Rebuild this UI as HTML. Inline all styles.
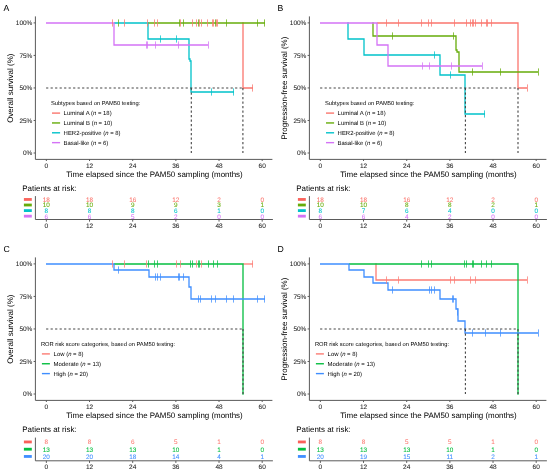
<!DOCTYPE html>
<html><head><meta charset="utf-8"><style>
html,body{margin:0;padding:0;background:#fff;width:550px;height:473px;overflow:hidden}
svg{display:block;will-change:transform}
</style></head><body>
<svg width="550" height="473" viewBox="0 0 550 473" font-family="'Liberation Sans', sans-serif" text-rendering="geometricPrecision">
<rect width="550" height="473" fill="#fff"/>
<text x="3.50" y="10.85" font-size="8.7" text-anchor="start" fill="#000" stroke="#000" stroke-width="0" >A</text>
<line x1="35.40" y1="16.40" x2="35.40" y2="159.40" stroke="#5a5a5a" stroke-width="1.0" />
<line x1="35.40" y1="159.40" x2="272.40" y2="159.40" stroke="#5a5a5a" stroke-width="1.0" />
<line x1="33.60" y1="22.90" x2="35.40" y2="22.90" stroke="#5a5a5a" stroke-width="1.0" />
<text x="32.40" y="25.25" font-size="6.5" text-anchor="end" fill="#222" stroke="#222" stroke-width="0.06" >100%</text>
<line x1="33.60" y1="55.42" x2="35.40" y2="55.42" stroke="#5a5a5a" stroke-width="1.0" />
<text x="32.40" y="57.77" font-size="6.5" text-anchor="end" fill="#222" stroke="#222" stroke-width="0.06" >75%</text>
<line x1="33.60" y1="87.95" x2="35.40" y2="87.95" stroke="#5a5a5a" stroke-width="1.0" />
<text x="32.40" y="90.30" font-size="6.5" text-anchor="end" fill="#222" stroke="#222" stroke-width="0.06" >50%</text>
<line x1="33.60" y1="120.47" x2="35.40" y2="120.47" stroke="#5a5a5a" stroke-width="1.0" />
<text x="32.40" y="122.82" font-size="6.5" text-anchor="end" fill="#222" stroke="#222" stroke-width="0.06" >25%</text>
<line x1="33.60" y1="153.00" x2="35.40" y2="153.00" stroke="#5a5a5a" stroke-width="1.0" />
<text x="32.40" y="155.35" font-size="6.5" text-anchor="end" fill="#222" stroke="#222" stroke-width="0.06" >0%</text>
<line x1="46.35" y1="159.40" x2="46.35" y2="161.00" stroke="#5a5a5a" stroke-width="1.0" />
<text x="46.35" y="168.00" font-size="6.5" text-anchor="middle" fill="#222" stroke="#222" stroke-width="0.06" >0</text>
<line x1="89.52" y1="159.40" x2="89.52" y2="161.00" stroke="#5a5a5a" stroke-width="1.0" />
<text x="89.52" y="168.00" font-size="6.5" text-anchor="middle" fill="#222" stroke="#222" stroke-width="0.06" >12</text>
<line x1="132.69" y1="159.40" x2="132.69" y2="161.00" stroke="#5a5a5a" stroke-width="1.0" />
<text x="132.69" y="168.00" font-size="6.5" text-anchor="middle" fill="#222" stroke="#222" stroke-width="0.06" >24</text>
<line x1="175.86" y1="159.40" x2="175.86" y2="161.00" stroke="#5a5a5a" stroke-width="1.0" />
<text x="175.86" y="168.00" font-size="6.5" text-anchor="middle" fill="#222" stroke="#222" stroke-width="0.06" >36</text>
<line x1="219.03" y1="159.40" x2="219.03" y2="161.00" stroke="#5a5a5a" stroke-width="1.0" />
<text x="219.03" y="168.00" font-size="6.5" text-anchor="middle" fill="#222" stroke="#222" stroke-width="0.06" >48</text>
<line x1="262.20" y1="159.40" x2="262.20" y2="161.00" stroke="#5a5a5a" stroke-width="1.0" />
<text x="262.20" y="168.00" font-size="6.5" text-anchor="middle" fill="#222" stroke="#222" stroke-width="0.06" >60</text>
<text x="154.50" y="176.60" font-size="7.95" text-anchor="middle" fill="#000" stroke="#000" stroke-width="0" >Time elapsed since the PAM50 sampling (months)</text>
<text x="0" y="0" font-size="8" text-anchor="middle" transform="translate(12.80,88.20) rotate(-90)">Overall survival (%)</text>
<path d="M243.00,88.00H253.00M243.00,22.35V88.65" fill="none" stroke="#FA766E" stroke-width="1.3" stroke-linecap="butt"/>
<path d="M148.00,23.00H265.00" fill="none" stroke="#66AC0A" stroke-width="1.3" stroke-linecap="butt"/>
<path d="M114.00,23.00H148.00M148.00,39.00H189.00M189.00,59.00H190.00M190.00,61.00H191.00M191.00,92.00H234.00M148.00,22.35V39.65M189.00,38.35V59.65M190.00,58.35V61.65M191.00,60.35V92.65" fill="none" stroke="#00C2CA" stroke-width="1.3" stroke-linecap="butt"/>
<path d="M46.00,23.00H114.00M114.00,45.00H208.00M114.00,22.35V45.65" fill="none" stroke="#D473F6" stroke-width="1.3" stroke-linecap="butt"/>
<path d="M112.50,19.40V26.60M124.50,19.40V26.60M147.50,19.40V26.60M154.50,19.40V26.60M157.50,19.40V26.60M180.50,19.40V26.60M192.50,19.40V26.60M196.50,19.40V26.60M199.50,19.40V26.60M201.50,19.40V26.60M207.50,19.40V26.60M212.50,19.40V26.60M213.50,19.40V26.60M216.50,19.40V26.60M217.50,19.40V26.60M252.50,84.40V91.60" fill="none" stroke="#FA766E" stroke-width="0.75"/>
<path d="M118.50,19.40V26.60M179.50,19.40V26.60M183.50,19.40V26.60M198.50,19.40V26.60M215.50,19.40V26.60M226.50,19.40V26.60M257.50,19.40V26.60M264.50,19.40V26.60" fill="none" stroke="#66AC0A" stroke-width="0.75"/>
<path d="M160.50,35.40V42.60M176.50,35.40V42.60M211.50,88.40V95.60M233.50,88.40V95.60" fill="none" stroke="#00C2CA" stroke-width="0.75"/>
<path d="M146.50,41.40V48.60M147.50,41.40V48.60M155.50,41.40V48.60M178.50,41.40V48.60M208.50,41.40V48.60" fill="none" stroke="#D473F6" stroke-width="0.75"/>
<path d="M46.10,87.95 L242.90,87.95" fill="none" stroke="#444" stroke-width="1.1" stroke-dasharray="2.2,2.3"/>
<path d="M191.30,87.95 L191.30,153.00" fill="none" stroke="#444" stroke-width="1.1" stroke-dasharray="2.2,2.3"/>
<path d="M242.90,87.95 L242.90,153.00" fill="none" stroke="#444" stroke-width="1.1" stroke-dasharray="2.2,2.3"/>
<text x="50.90" y="105.10" font-size="5.75" text-anchor="start" fill="#000" stroke="#000" stroke-width="0" >Subtypes based on PAM50 testing:</text>
<line x1="52.00" y1="113.10" x2="60.10" y2="113.10" stroke="#FA766E" stroke-width="1.4" />
<text x="63.60" y="115.25" font-size="5.95" text-anchor="start" fill="#000" stroke="#000" stroke-width="0" >Luminal A (<tspan font-style="italic">n</tspan> = 18)</text>
<line x1="52.00" y1="122.95" x2="60.10" y2="122.95" stroke="#66AC0A" stroke-width="1.4" />
<text x="63.60" y="125.10" font-size="5.95" text-anchor="start" fill="#000" stroke="#000" stroke-width="0" >Luminal B (<tspan font-style="italic">n</tspan> = 10)</text>
<line x1="52.00" y1="132.80" x2="60.10" y2="132.80" stroke="#00C2CA" stroke-width="1.4" />
<text x="63.60" y="134.95" font-size="5.95" text-anchor="start" fill="#000" stroke="#000" stroke-width="0" >HER2-positive (<tspan font-style="italic">n</tspan> = 8)</text>
<line x1="52.00" y1="142.65" x2="60.10" y2="142.65" stroke="#D473F6" stroke-width="1.4" />
<text x="63.60" y="144.80" font-size="5.95" text-anchor="start" fill="#000" stroke="#000" stroke-width="0" >Basal-like (<tspan font-style="italic">n</tspan> = 6)</text>
<text x="22.30" y="191.30" font-size="7.95" text-anchor="start" fill="#000" stroke="#000" stroke-width="0" >Patients at risk:</text>
<line x1="35.40" y1="196.10" x2="35.40" y2="219.50" stroke="#5a5a5a" stroke-width="1.0" />
<line x1="35.40" y1="219.50" x2="272.90" y2="219.50" stroke="#5a5a5a" stroke-width="1.0" />
<line x1="46.35" y1="219.50" x2="46.35" y2="221.60" stroke="#5a5a5a" stroke-width="1.0" />
<text x="46.35" y="228.00" font-size="6.5" text-anchor="middle" fill="#222" stroke="#222" stroke-width="0.06" >0</text>
<line x1="89.52" y1="219.50" x2="89.52" y2="221.60" stroke="#5a5a5a" stroke-width="1.0" />
<text x="89.52" y="228.00" font-size="6.5" text-anchor="middle" fill="#222" stroke="#222" stroke-width="0.06" >12</text>
<line x1="132.69" y1="219.50" x2="132.69" y2="221.60" stroke="#5a5a5a" stroke-width="1.0" />
<text x="132.69" y="228.00" font-size="6.5" text-anchor="middle" fill="#222" stroke="#222" stroke-width="0.06" >24</text>
<line x1="175.86" y1="219.50" x2="175.86" y2="221.60" stroke="#5a5a5a" stroke-width="1.0" />
<text x="175.86" y="228.00" font-size="6.5" text-anchor="middle" fill="#222" stroke="#222" stroke-width="0.06" >36</text>
<line x1="219.03" y1="219.50" x2="219.03" y2="221.60" stroke="#5a5a5a" stroke-width="1.0" />
<text x="219.03" y="228.00" font-size="6.5" text-anchor="middle" fill="#222" stroke="#222" stroke-width="0.06" >48</text>
<line x1="262.20" y1="219.50" x2="262.20" y2="221.60" stroke="#5a5a5a" stroke-width="1.0" />
<text x="262.20" y="228.00" font-size="6.5" text-anchor="middle" fill="#222" stroke="#222" stroke-width="0.06" >60</text>
<rect x="23.90" y="198.04" width="7.9" height="2.8" fill="#FA645C"/>
<text x="46.35" y="201.79" font-size="6.4" text-anchor="middle" fill="#FA766E" stroke="#FA766E" stroke-width="0.06" >18</text>
<text x="89.52" y="201.79" font-size="6.4" text-anchor="middle" fill="#FA766E" stroke="#FA766E" stroke-width="0.06" >18</text>
<text x="132.69" y="201.79" font-size="6.4" text-anchor="middle" fill="#FA766E" stroke="#FA766E" stroke-width="0.06" >16</text>
<text x="175.86" y="201.79" font-size="6.4" text-anchor="middle" fill="#FA766E" stroke="#FA766E" stroke-width="0.06" >12</text>
<text x="219.03" y="201.79" font-size="6.4" text-anchor="middle" fill="#FA766E" stroke="#FA766E" stroke-width="0.06" >2</text>
<text x="262.20" y="201.79" font-size="6.4" text-anchor="middle" fill="#FA766E" stroke="#FA766E" stroke-width="0.06" >0</text>
<rect x="23.90" y="203.61" width="7.9" height="2.8" fill="#66AC0A"/>
<text x="46.35" y="207.36" font-size="6.4" text-anchor="middle" fill="#66AC0A" stroke="#66AC0A" stroke-width="0.06" >10</text>
<text x="89.52" y="207.36" font-size="6.4" text-anchor="middle" fill="#66AC0A" stroke="#66AC0A" stroke-width="0.06" >10</text>
<text x="132.69" y="207.36" font-size="6.4" text-anchor="middle" fill="#66AC0A" stroke="#66AC0A" stroke-width="0.06" >9</text>
<text x="175.86" y="207.36" font-size="6.4" text-anchor="middle" fill="#66AC0A" stroke="#66AC0A" stroke-width="0.06" >9</text>
<text x="219.03" y="207.36" font-size="6.4" text-anchor="middle" fill="#66AC0A" stroke="#66AC0A" stroke-width="0.06" >3</text>
<text x="262.20" y="207.36" font-size="6.4" text-anchor="middle" fill="#66AC0A" stroke="#66AC0A" stroke-width="0.06" >1</text>
<rect x="23.90" y="209.19" width="7.9" height="2.8" fill="#00C2CA"/>
<text x="46.35" y="212.94" font-size="6.4" text-anchor="middle" fill="#00C2CA" stroke="#00C2CA" stroke-width="0.06" >8</text>
<text x="89.52" y="212.94" font-size="6.4" text-anchor="middle" fill="#00C2CA" stroke="#00C2CA" stroke-width="0.06" >8</text>
<text x="132.69" y="212.94" font-size="6.4" text-anchor="middle" fill="#00C2CA" stroke="#00C2CA" stroke-width="0.06" >8</text>
<text x="175.86" y="212.94" font-size="6.4" text-anchor="middle" fill="#00C2CA" stroke="#00C2CA" stroke-width="0.06" >6</text>
<text x="219.03" y="212.94" font-size="6.4" text-anchor="middle" fill="#00C2CA" stroke="#00C2CA" stroke-width="0.06" >1</text>
<text x="262.20" y="212.94" font-size="6.4" text-anchor="middle" fill="#00C2CA" stroke="#00C2CA" stroke-width="0.06" >0</text>
<rect x="23.90" y="214.76" width="7.9" height="2.8" fill="#D473F6"/>
<text x="46.35" y="218.51" font-size="6.4" text-anchor="middle" fill="#D473F6" stroke="#D473F6" stroke-width="0.06" >6</text>
<text x="89.52" y="218.51" font-size="6.4" text-anchor="middle" fill="#D473F6" stroke="#D473F6" stroke-width="0.06" >6</text>
<text x="132.69" y="218.51" font-size="6.4" text-anchor="middle" fill="#D473F6" stroke="#D473F6" stroke-width="0.06" >5</text>
<text x="175.86" y="218.51" font-size="6.4" text-anchor="middle" fill="#D473F6" stroke="#D473F6" stroke-width="0.06" >2</text>
<text x="219.03" y="218.51" font-size="6.4" text-anchor="middle" fill="#D473F6" stroke="#D473F6" stroke-width="0.06" >0</text>
<text x="262.20" y="218.51" font-size="6.4" text-anchor="middle" fill="#D473F6" stroke="#D473F6" stroke-width="0.06" >0</text>
<text x="277.50" y="10.85" font-size="8.7" text-anchor="start" fill="#000" stroke="#000" stroke-width="0" >B</text>
<line x1="309.40" y1="16.40" x2="309.40" y2="159.40" stroke="#5a5a5a" stroke-width="1.0" />
<line x1="309.40" y1="159.40" x2="546.40" y2="159.40" stroke="#5a5a5a" stroke-width="1.0" />
<line x1="307.60" y1="22.90" x2="309.40" y2="22.90" stroke="#5a5a5a" stroke-width="1.0" />
<text x="306.40" y="25.25" font-size="6.5" text-anchor="end" fill="#222" stroke="#222" stroke-width="0.06" >100%</text>
<line x1="307.60" y1="55.42" x2="309.40" y2="55.42" stroke="#5a5a5a" stroke-width="1.0" />
<text x="306.40" y="57.77" font-size="6.5" text-anchor="end" fill="#222" stroke="#222" stroke-width="0.06" >75%</text>
<line x1="307.60" y1="87.95" x2="309.40" y2="87.95" stroke="#5a5a5a" stroke-width="1.0" />
<text x="306.40" y="90.30" font-size="6.5" text-anchor="end" fill="#222" stroke="#222" stroke-width="0.06" >50%</text>
<line x1="307.60" y1="120.47" x2="309.40" y2="120.47" stroke="#5a5a5a" stroke-width="1.0" />
<text x="306.40" y="122.82" font-size="6.5" text-anchor="end" fill="#222" stroke="#222" stroke-width="0.06" >25%</text>
<line x1="307.60" y1="153.00" x2="309.40" y2="153.00" stroke="#5a5a5a" stroke-width="1.0" />
<text x="306.40" y="155.35" font-size="6.5" text-anchor="end" fill="#222" stroke="#222" stroke-width="0.06" >0%</text>
<line x1="320.35" y1="159.40" x2="320.35" y2="161.00" stroke="#5a5a5a" stroke-width="1.0" />
<text x="320.35" y="168.00" font-size="6.5" text-anchor="middle" fill="#222" stroke="#222" stroke-width="0.06" >0</text>
<line x1="363.52" y1="159.40" x2="363.52" y2="161.00" stroke="#5a5a5a" stroke-width="1.0" />
<text x="363.52" y="168.00" font-size="6.5" text-anchor="middle" fill="#222" stroke="#222" stroke-width="0.06" >12</text>
<line x1="406.69" y1="159.40" x2="406.69" y2="161.00" stroke="#5a5a5a" stroke-width="1.0" />
<text x="406.69" y="168.00" font-size="6.5" text-anchor="middle" fill="#222" stroke="#222" stroke-width="0.06" >24</text>
<line x1="449.86" y1="159.40" x2="449.86" y2="161.00" stroke="#5a5a5a" stroke-width="1.0" />
<text x="449.86" y="168.00" font-size="6.5" text-anchor="middle" fill="#222" stroke="#222" stroke-width="0.06" >36</text>
<line x1="493.03" y1="159.40" x2="493.03" y2="161.00" stroke="#5a5a5a" stroke-width="1.0" />
<text x="493.03" y="168.00" font-size="6.5" text-anchor="middle" fill="#222" stroke="#222" stroke-width="0.06" >48</text>
<line x1="536.20" y1="159.40" x2="536.20" y2="161.00" stroke="#5a5a5a" stroke-width="1.0" />
<text x="536.20" y="168.00" font-size="6.5" text-anchor="middle" fill="#222" stroke="#222" stroke-width="0.06" >60</text>
<text x="428.50" y="176.60" font-size="7.95" text-anchor="middle" fill="#000" stroke="#000" stroke-width="0" >Time elapsed since the PAM50 sampling (months)</text>
<text x="0" y="0" font-size="8" text-anchor="middle" transform="translate(286.80,88.20) rotate(-90)">Progression-free survival (%)</text>
<path d="M377.00,23.00H518.00M518.00,88.00H527.00M518.00,22.35V88.65" fill="none" stroke="#FA766E" stroke-width="1.3" stroke-linecap="butt"/>
<path d="M373.00,36.00H456.00M456.00,50.00H457.00M457.00,52.00H459.00M459.00,72.00H538.00M373.00,22.35V36.65M456.00,35.35V50.65M457.00,49.35V52.65M459.00,51.35V72.65" fill="none" stroke="#66AC0A" stroke-width="1.3" stroke-linecap="butt"/>
<path d="M348.00,39.00H364.00M364.00,55.00H440.00M440.00,75.00H465.00M465.00,114.00H485.00M348.00,22.35V39.65M364.00,38.35V55.65M440.00,54.35V75.65M465.00,74.35V114.65" fill="none" stroke="#00C2CA" stroke-width="1.3" stroke-linecap="butt"/>
<path d="M320.00,23.00H377.00M377.00,45.00H388.00M388.00,66.00H482.00M377.00,22.35V45.65M388.00,44.35V66.65" fill="none" stroke="#D473F6" stroke-width="1.3" stroke-linecap="butt"/>
<path d="M386.50,19.40V26.60M398.50,19.40V26.60M421.50,19.40V26.60M428.50,19.40V26.60M431.50,19.40V26.60M454.50,19.40V26.60M466.50,19.40V26.60M470.50,19.40V26.60M472.50,19.40V26.60M473.50,19.40V26.60M475.50,19.40V26.60M481.50,19.40V26.60M486.50,19.40V26.60M487.50,19.40V26.60M491.50,19.40V26.60M527.50,84.40V91.60" fill="none" stroke="#FA766E" stroke-width="0.75"/>
<path d="M392.50,32.40V39.60M453.50,32.40V39.60M472.50,68.40V75.60M500.50,68.40V75.60M538.50,68.40V75.60" fill="none" stroke="#66AC0A" stroke-width="0.75"/>
<path d="M434.50,51.40V58.60M450.50,71.40V78.60M484.50,110.40V117.60" fill="none" stroke="#00C2CA" stroke-width="0.75"/>
<path d="M422.50,62.40V69.60M429.50,62.40V69.60M451.50,62.40V69.60M482.50,62.40V69.60" fill="none" stroke="#D473F6" stroke-width="0.75"/>
<path d="M320.10,87.95 L518.00,87.95" fill="none" stroke="#444" stroke-width="1.1" stroke-dasharray="2.2,2.3"/>
<path d="M465.40,87.95 L465.40,153.00" fill="none" stroke="#444" stroke-width="1.1" stroke-dasharray="2.2,2.3"/>
<path d="M518.00,87.95 L518.00,153.00" fill="none" stroke="#444" stroke-width="1.1" stroke-dasharray="2.2,2.3"/>
<text x="324.90" y="105.10" font-size="5.75" text-anchor="start" fill="#000" stroke="#000" stroke-width="0" >Subtypes based on PAM50 testing:</text>
<line x1="326.00" y1="113.10" x2="334.10" y2="113.10" stroke="#FA766E" stroke-width="1.4" />
<text x="337.60" y="115.25" font-size="5.95" text-anchor="start" fill="#000" stroke="#000" stroke-width="0" >Luminal A (<tspan font-style="italic">n</tspan> = 18)</text>
<line x1="326.00" y1="122.95" x2="334.10" y2="122.95" stroke="#66AC0A" stroke-width="1.4" />
<text x="337.60" y="125.10" font-size="5.95" text-anchor="start" fill="#000" stroke="#000" stroke-width="0" >Luminal B (<tspan font-style="italic">n</tspan> = 10)</text>
<line x1="326.00" y1="132.80" x2="334.10" y2="132.80" stroke="#00C2CA" stroke-width="1.4" />
<text x="337.60" y="134.95" font-size="5.95" text-anchor="start" fill="#000" stroke="#000" stroke-width="0" >HER2-positive (<tspan font-style="italic">n</tspan> = 8)</text>
<line x1="326.00" y1="142.65" x2="334.10" y2="142.65" stroke="#D473F6" stroke-width="1.4" />
<text x="337.60" y="144.80" font-size="5.95" text-anchor="start" fill="#000" stroke="#000" stroke-width="0" >Basal-like (<tspan font-style="italic">n</tspan> = 6)</text>
<text x="296.30" y="191.30" font-size="7.95" text-anchor="start" fill="#000" stroke="#000" stroke-width="0" >Patients at risk:</text>
<line x1="309.40" y1="196.10" x2="309.40" y2="219.50" stroke="#5a5a5a" stroke-width="1.0" />
<line x1="309.40" y1="219.50" x2="546.90" y2="219.50" stroke="#5a5a5a" stroke-width="1.0" />
<line x1="320.35" y1="219.50" x2="320.35" y2="221.60" stroke="#5a5a5a" stroke-width="1.0" />
<text x="320.35" y="228.00" font-size="6.5" text-anchor="middle" fill="#222" stroke="#222" stroke-width="0.06" >0</text>
<line x1="363.52" y1="219.50" x2="363.52" y2="221.60" stroke="#5a5a5a" stroke-width="1.0" />
<text x="363.52" y="228.00" font-size="6.5" text-anchor="middle" fill="#222" stroke="#222" stroke-width="0.06" >12</text>
<line x1="406.69" y1="219.50" x2="406.69" y2="221.60" stroke="#5a5a5a" stroke-width="1.0" />
<text x="406.69" y="228.00" font-size="6.5" text-anchor="middle" fill="#222" stroke="#222" stroke-width="0.06" >24</text>
<line x1="449.86" y1="219.50" x2="449.86" y2="221.60" stroke="#5a5a5a" stroke-width="1.0" />
<text x="449.86" y="228.00" font-size="6.5" text-anchor="middle" fill="#222" stroke="#222" stroke-width="0.06" >36</text>
<line x1="493.03" y1="219.50" x2="493.03" y2="221.60" stroke="#5a5a5a" stroke-width="1.0" />
<text x="493.03" y="228.00" font-size="6.5" text-anchor="middle" fill="#222" stroke="#222" stroke-width="0.06" >48</text>
<line x1="536.20" y1="219.50" x2="536.20" y2="221.60" stroke="#5a5a5a" stroke-width="1.0" />
<text x="536.20" y="228.00" font-size="6.5" text-anchor="middle" fill="#222" stroke="#222" stroke-width="0.06" >60</text>
<rect x="297.90" y="198.04" width="7.9" height="2.8" fill="#FA645C"/>
<text x="320.35" y="201.79" font-size="6.4" text-anchor="middle" fill="#FA766E" stroke="#FA766E" stroke-width="0.06" >18</text>
<text x="363.52" y="201.79" font-size="6.4" text-anchor="middle" fill="#FA766E" stroke="#FA766E" stroke-width="0.06" >18</text>
<text x="406.69" y="201.79" font-size="6.4" text-anchor="middle" fill="#FA766E" stroke="#FA766E" stroke-width="0.06" >16</text>
<text x="449.86" y="201.79" font-size="6.4" text-anchor="middle" fill="#FA766E" stroke="#FA766E" stroke-width="0.06" >12</text>
<text x="493.03" y="201.79" font-size="6.4" text-anchor="middle" fill="#FA766E" stroke="#FA766E" stroke-width="0.06" >2</text>
<text x="536.20" y="201.79" font-size="6.4" text-anchor="middle" fill="#FA766E" stroke="#FA766E" stroke-width="0.06" >0</text>
<rect x="297.90" y="203.61" width="7.9" height="2.8" fill="#66AC0A"/>
<text x="320.35" y="207.36" font-size="6.4" text-anchor="middle" fill="#66AC0A" stroke="#66AC0A" stroke-width="0.06" >10</text>
<text x="363.52" y="207.36" font-size="6.4" text-anchor="middle" fill="#66AC0A" stroke="#66AC0A" stroke-width="0.06" >10</text>
<text x="406.69" y="207.36" font-size="6.4" text-anchor="middle" fill="#66AC0A" stroke="#66AC0A" stroke-width="0.06" >8</text>
<text x="449.86" y="207.36" font-size="6.4" text-anchor="middle" fill="#66AC0A" stroke="#66AC0A" stroke-width="0.06" >8</text>
<text x="493.03" y="207.36" font-size="6.4" text-anchor="middle" fill="#66AC0A" stroke="#66AC0A" stroke-width="0.06" >2</text>
<text x="536.20" y="207.36" font-size="6.4" text-anchor="middle" fill="#66AC0A" stroke="#66AC0A" stroke-width="0.06" >1</text>
<rect x="297.90" y="209.19" width="7.9" height="2.8" fill="#00C2CA"/>
<text x="320.35" y="212.94" font-size="6.4" text-anchor="middle" fill="#00C2CA" stroke="#00C2CA" stroke-width="0.06" >8</text>
<text x="363.52" y="212.94" font-size="6.4" text-anchor="middle" fill="#00C2CA" stroke="#00C2CA" stroke-width="0.06" >7</text>
<text x="406.69" y="212.94" font-size="6.4" text-anchor="middle" fill="#00C2CA" stroke="#00C2CA" stroke-width="0.06" >6</text>
<text x="449.86" y="212.94" font-size="6.4" text-anchor="middle" fill="#00C2CA" stroke="#00C2CA" stroke-width="0.06" >4</text>
<text x="493.03" y="212.94" font-size="6.4" text-anchor="middle" fill="#00C2CA" stroke="#00C2CA" stroke-width="0.06" >0</text>
<text x="536.20" y="212.94" font-size="6.4" text-anchor="middle" fill="#00C2CA" stroke="#00C2CA" stroke-width="0.06" >0</text>
<rect x="297.90" y="214.76" width="7.9" height="2.8" fill="#D473F6"/>
<text x="320.35" y="218.51" font-size="6.4" text-anchor="middle" fill="#D473F6" stroke="#D473F6" stroke-width="0.06" >6</text>
<text x="363.52" y="218.51" font-size="6.4" text-anchor="middle" fill="#D473F6" stroke="#D473F6" stroke-width="0.06" >6</text>
<text x="406.69" y="218.51" font-size="6.4" text-anchor="middle" fill="#D473F6" stroke="#D473F6" stroke-width="0.06" >4</text>
<text x="449.86" y="218.51" font-size="6.4" text-anchor="middle" fill="#D473F6" stroke="#D473F6" stroke-width="0.06" >2</text>
<text x="493.03" y="218.51" font-size="6.4" text-anchor="middle" fill="#D473F6" stroke="#D473F6" stroke-width="0.06" >0</text>
<text x="536.20" y="218.51" font-size="6.4" text-anchor="middle" fill="#D473F6" stroke="#D473F6" stroke-width="0.06" >0</text>
<text x="3.50" y="251.85" font-size="8.7" text-anchor="start" fill="#000" stroke="#000" stroke-width="0" >C</text>
<line x1="35.40" y1="257.40" x2="35.40" y2="400.40" stroke="#5a5a5a" stroke-width="1.0" />
<line x1="35.40" y1="400.40" x2="272.40" y2="400.40" stroke="#5a5a5a" stroke-width="1.0" />
<line x1="33.60" y1="263.90" x2="35.40" y2="263.90" stroke="#5a5a5a" stroke-width="1.0" />
<text x="32.40" y="266.25" font-size="6.5" text-anchor="end" fill="#222" stroke="#222" stroke-width="0.06" >100%</text>
<line x1="33.60" y1="296.43" x2="35.40" y2="296.43" stroke="#5a5a5a" stroke-width="1.0" />
<text x="32.40" y="298.78" font-size="6.5" text-anchor="end" fill="#222" stroke="#222" stroke-width="0.06" >75%</text>
<line x1="33.60" y1="328.95" x2="35.40" y2="328.95" stroke="#5a5a5a" stroke-width="1.0" />
<text x="32.40" y="331.30" font-size="6.5" text-anchor="end" fill="#222" stroke="#222" stroke-width="0.06" >50%</text>
<line x1="33.60" y1="361.48" x2="35.40" y2="361.48" stroke="#5a5a5a" stroke-width="1.0" />
<text x="32.40" y="363.83" font-size="6.5" text-anchor="end" fill="#222" stroke="#222" stroke-width="0.06" >25%</text>
<line x1="33.60" y1="394.00" x2="35.40" y2="394.00" stroke="#5a5a5a" stroke-width="1.0" />
<text x="32.40" y="396.35" font-size="6.5" text-anchor="end" fill="#222" stroke="#222" stroke-width="0.06" >0%</text>
<line x1="46.35" y1="400.40" x2="46.35" y2="402.00" stroke="#5a5a5a" stroke-width="1.0" />
<text x="46.35" y="409.00" font-size="6.5" text-anchor="middle" fill="#222" stroke="#222" stroke-width="0.06" >0</text>
<line x1="89.52" y1="400.40" x2="89.52" y2="402.00" stroke="#5a5a5a" stroke-width="1.0" />
<text x="89.52" y="409.00" font-size="6.5" text-anchor="middle" fill="#222" stroke="#222" stroke-width="0.06" >12</text>
<line x1="132.69" y1="400.40" x2="132.69" y2="402.00" stroke="#5a5a5a" stroke-width="1.0" />
<text x="132.69" y="409.00" font-size="6.5" text-anchor="middle" fill="#222" stroke="#222" stroke-width="0.06" >24</text>
<line x1="175.86" y1="400.40" x2="175.86" y2="402.00" stroke="#5a5a5a" stroke-width="1.0" />
<text x="175.86" y="409.00" font-size="6.5" text-anchor="middle" fill="#222" stroke="#222" stroke-width="0.06" >36</text>
<line x1="219.03" y1="400.40" x2="219.03" y2="402.00" stroke="#5a5a5a" stroke-width="1.0" />
<text x="219.03" y="409.00" font-size="6.5" text-anchor="middle" fill="#222" stroke="#222" stroke-width="0.06" >48</text>
<line x1="262.20" y1="400.40" x2="262.20" y2="402.00" stroke="#5a5a5a" stroke-width="1.0" />
<text x="262.20" y="409.00" font-size="6.5" text-anchor="middle" fill="#222" stroke="#222" stroke-width="0.06" >60</text>
<text x="154.50" y="417.60" font-size="7.95" text-anchor="middle" fill="#000" stroke="#000" stroke-width="0" >Time elapsed since the PAM50 sampling (months)</text>
<text x="0" y="0" font-size="8" text-anchor="middle" transform="translate(12.80,329.20) rotate(-90)">Overall survival (%)</text>
<path d="M243.00,264.00H253.00" fill="none" stroke="#FC7C74" stroke-width="1.3" stroke-linecap="butt"/>
<path d="M114.00,264.00H243.00M243.00,263.35V394.65" fill="none" stroke="#06BE40" stroke-width="1.3" stroke-linecap="butt"/>
<path d="M46.00,264.00H114.00M114.00,270.00H149.00M149.00,277.00H189.00M189.00,287.00H191.00M191.00,299.00H265.00M114.00,263.35V270.65M149.00,269.35V277.65M189.00,276.35V287.65M191.00,286.35V299.65" fill="none" stroke="#3F8EFF" stroke-width="1.3" stroke-linecap="butt"/>
<path d="M112.50,260.40V267.60M124.50,260.40V267.60M146.50,260.40V267.60M176.50,260.40V267.60M180.50,260.40V267.60M196.50,260.40V267.60M201.50,260.40V267.60M252.50,260.40V267.60" fill="none" stroke="#FC7C74" stroke-width="0.75"/>
<path d="M148.50,260.40V267.60M154.50,260.40V267.60M157.50,260.40V267.60M190.50,260.40V267.60M192.50,260.40V267.60M198.50,260.40V267.60M199.50,260.40V267.60M208.50,260.40V267.60M213.50,260.40V267.60M217.50,260.40V267.60" fill="none" stroke="#06BE40" stroke-width="0.75"/>
<path d="M118.50,266.40V273.60M155.50,273.40V280.60M157.50,273.40V280.60M160.50,273.40V280.60M178.50,273.40V280.60M179.50,273.40V280.60M183.50,273.40V280.60M198.50,295.40V302.60M200.50,295.40V302.60M211.50,295.40V302.60M215.50,295.40V302.60M226.50,295.40V302.60M233.50,295.40V302.60M257.50,295.40V302.60M264.50,295.40V302.60" fill="none" stroke="#3F8EFF" stroke-width="0.75"/>
<path d="M46.10,328.95 L243.00,328.95" fill="none" stroke="#444" stroke-width="1.1" stroke-dasharray="2.2,2.3"/>
<path d="M243.00,328.95 L243.00,394.00" fill="none" stroke="#444" stroke-width="1.1" stroke-dasharray="2.2,2.3"/>
<text x="40.90" y="345.90" font-size="5.75" text-anchor="start" fill="#000" stroke="#000" stroke-width="0" >ROR risk score categories, based on PAM50 testing:</text>
<line x1="41.90" y1="353.90" x2="49.90" y2="353.90" stroke="#FC7C74" stroke-width="1.4" />
<text x="53.60" y="356.05" font-size="5.95" text-anchor="start" fill="#000" stroke="#000" stroke-width="0" >Low (<tspan font-style="italic">n</tspan> = 8)</text>
<line x1="41.90" y1="363.75" x2="49.90" y2="363.75" stroke="#06BE40" stroke-width="1.4" />
<text x="53.60" y="365.90" font-size="5.95" text-anchor="start" fill="#000" stroke="#000" stroke-width="0" >Moderate (<tspan font-style="italic">n</tspan> = 13)</text>
<line x1="41.90" y1="373.60" x2="49.90" y2="373.60" stroke="#3F8EFF" stroke-width="1.4" />
<text x="53.60" y="375.75" font-size="5.95" text-anchor="start" fill="#000" stroke="#000" stroke-width="0" >High (<tspan font-style="italic">n</tspan> = 20)</text>
<text x="22.30" y="432.30" font-size="7.95" text-anchor="start" fill="#000" stroke="#000" stroke-width="0" >Patients at risk:</text>
<line x1="35.40" y1="437.60" x2="35.40" y2="460.80" stroke="#5a5a5a" stroke-width="1.0" />
<line x1="35.40" y1="460.80" x2="272.90" y2="460.80" stroke="#5a5a5a" stroke-width="1.0" />
<line x1="46.35" y1="460.80" x2="46.35" y2="462.90" stroke="#5a5a5a" stroke-width="1.0" />
<text x="46.35" y="469.30" font-size="6.5" text-anchor="middle" fill="#222" stroke="#222" stroke-width="0.06" >0</text>
<line x1="89.52" y1="460.80" x2="89.52" y2="462.90" stroke="#5a5a5a" stroke-width="1.0" />
<text x="89.52" y="469.30" font-size="6.5" text-anchor="middle" fill="#222" stroke="#222" stroke-width="0.06" >12</text>
<line x1="132.69" y1="460.80" x2="132.69" y2="462.90" stroke="#5a5a5a" stroke-width="1.0" />
<text x="132.69" y="469.30" font-size="6.5" text-anchor="middle" fill="#222" stroke="#222" stroke-width="0.06" >24</text>
<line x1="175.86" y1="460.80" x2="175.86" y2="462.90" stroke="#5a5a5a" stroke-width="1.0" />
<text x="175.86" y="469.30" font-size="6.5" text-anchor="middle" fill="#222" stroke="#222" stroke-width="0.06" >36</text>
<line x1="219.03" y1="460.80" x2="219.03" y2="462.90" stroke="#5a5a5a" stroke-width="1.0" />
<text x="219.03" y="469.30" font-size="6.5" text-anchor="middle" fill="#222" stroke="#222" stroke-width="0.06" >48</text>
<line x1="262.20" y1="460.80" x2="262.20" y2="462.90" stroke="#5a5a5a" stroke-width="1.0" />
<text x="262.20" y="469.30" font-size="6.5" text-anchor="middle" fill="#222" stroke="#222" stroke-width="0.06" >60</text>
<rect x="23.90" y="440.55" width="7.9" height="2.8" fill="#FA605A"/>
<text x="46.35" y="444.30" font-size="6.4" text-anchor="middle" fill="#FC7C74" stroke="#FC7C74" stroke-width="0.06" >8</text>
<text x="89.52" y="444.30" font-size="6.4" text-anchor="middle" fill="#FC7C74" stroke="#FC7C74" stroke-width="0.06" >8</text>
<text x="132.69" y="444.30" font-size="6.4" text-anchor="middle" fill="#FC7C74" stroke="#FC7C74" stroke-width="0.06" >6</text>
<text x="175.86" y="444.30" font-size="6.4" text-anchor="middle" fill="#FC7C74" stroke="#FC7C74" stroke-width="0.06" >5</text>
<text x="219.03" y="444.30" font-size="6.4" text-anchor="middle" fill="#FC7C74" stroke="#FC7C74" stroke-width="0.06" >1</text>
<text x="262.20" y="444.30" font-size="6.4" text-anchor="middle" fill="#FC7C74" stroke="#FC7C74" stroke-width="0.06" >0</text>
<rect x="23.90" y="447.80" width="7.9" height="2.8" fill="#06BE40"/>
<text x="46.35" y="451.55" font-size="6.4" text-anchor="middle" fill="#06BE40" stroke="#06BE40" stroke-width="0.06" >13</text>
<text x="89.52" y="451.55" font-size="6.4" text-anchor="middle" fill="#06BE40" stroke="#06BE40" stroke-width="0.06" >13</text>
<text x="132.69" y="451.55" font-size="6.4" text-anchor="middle" fill="#06BE40" stroke="#06BE40" stroke-width="0.06" >13</text>
<text x="175.86" y="451.55" font-size="6.4" text-anchor="middle" fill="#06BE40" stroke="#06BE40" stroke-width="0.06" >10</text>
<text x="219.03" y="451.55" font-size="6.4" text-anchor="middle" fill="#06BE40" stroke="#06BE40" stroke-width="0.06" >1</text>
<text x="262.20" y="451.55" font-size="6.4" text-anchor="middle" fill="#06BE40" stroke="#06BE40" stroke-width="0.06" >0</text>
<rect x="23.90" y="455.05" width="7.9" height="2.8" fill="#3F8EFF"/>
<text x="46.35" y="458.80" font-size="6.4" text-anchor="middle" fill="#3F8EFF" stroke="#3F8EFF" stroke-width="0.06" >20</text>
<text x="89.52" y="458.80" font-size="6.4" text-anchor="middle" fill="#3F8EFF" stroke="#3F8EFF" stroke-width="0.06" >20</text>
<text x="132.69" y="458.80" font-size="6.4" text-anchor="middle" fill="#3F8EFF" stroke="#3F8EFF" stroke-width="0.06" >18</text>
<text x="175.86" y="458.80" font-size="6.4" text-anchor="middle" fill="#3F8EFF" stroke="#3F8EFF" stroke-width="0.06" >14</text>
<text x="219.03" y="458.80" font-size="6.4" text-anchor="middle" fill="#3F8EFF" stroke="#3F8EFF" stroke-width="0.06" >4</text>
<text x="262.20" y="458.80" font-size="6.4" text-anchor="middle" fill="#3F8EFF" stroke="#3F8EFF" stroke-width="0.06" >1</text>
<text x="277.50" y="251.85" font-size="8.7" text-anchor="start" fill="#000" stroke="#000" stroke-width="0" >D</text>
<line x1="309.40" y1="257.40" x2="309.40" y2="400.40" stroke="#5a5a5a" stroke-width="1.0" />
<line x1="309.40" y1="400.40" x2="546.40" y2="400.40" stroke="#5a5a5a" stroke-width="1.0" />
<line x1="307.60" y1="263.90" x2="309.40" y2="263.90" stroke="#5a5a5a" stroke-width="1.0" />
<text x="306.40" y="266.25" font-size="6.5" text-anchor="end" fill="#222" stroke="#222" stroke-width="0.06" >100%</text>
<line x1="307.60" y1="296.43" x2="309.40" y2="296.43" stroke="#5a5a5a" stroke-width="1.0" />
<text x="306.40" y="298.78" font-size="6.5" text-anchor="end" fill="#222" stroke="#222" stroke-width="0.06" >75%</text>
<line x1="307.60" y1="328.95" x2="309.40" y2="328.95" stroke="#5a5a5a" stroke-width="1.0" />
<text x="306.40" y="331.30" font-size="6.5" text-anchor="end" fill="#222" stroke="#222" stroke-width="0.06" >50%</text>
<line x1="307.60" y1="361.48" x2="309.40" y2="361.48" stroke="#5a5a5a" stroke-width="1.0" />
<text x="306.40" y="363.83" font-size="6.5" text-anchor="end" fill="#222" stroke="#222" stroke-width="0.06" >25%</text>
<line x1="307.60" y1="394.00" x2="309.40" y2="394.00" stroke="#5a5a5a" stroke-width="1.0" />
<text x="306.40" y="396.35" font-size="6.5" text-anchor="end" fill="#222" stroke="#222" stroke-width="0.06" >0%</text>
<line x1="320.35" y1="400.40" x2="320.35" y2="402.00" stroke="#5a5a5a" stroke-width="1.0" />
<text x="320.35" y="409.00" font-size="6.5" text-anchor="middle" fill="#222" stroke="#222" stroke-width="0.06" >0</text>
<line x1="363.52" y1="400.40" x2="363.52" y2="402.00" stroke="#5a5a5a" stroke-width="1.0" />
<text x="363.52" y="409.00" font-size="6.5" text-anchor="middle" fill="#222" stroke="#222" stroke-width="0.06" >12</text>
<line x1="406.69" y1="400.40" x2="406.69" y2="402.00" stroke="#5a5a5a" stroke-width="1.0" />
<text x="406.69" y="409.00" font-size="6.5" text-anchor="middle" fill="#222" stroke="#222" stroke-width="0.06" >24</text>
<line x1="449.86" y1="400.40" x2="449.86" y2="402.00" stroke="#5a5a5a" stroke-width="1.0" />
<text x="449.86" y="409.00" font-size="6.5" text-anchor="middle" fill="#222" stroke="#222" stroke-width="0.06" >36</text>
<line x1="493.03" y1="400.40" x2="493.03" y2="402.00" stroke="#5a5a5a" stroke-width="1.0" />
<text x="493.03" y="409.00" font-size="6.5" text-anchor="middle" fill="#222" stroke="#222" stroke-width="0.06" >48</text>
<line x1="536.20" y1="400.40" x2="536.20" y2="402.00" stroke="#5a5a5a" stroke-width="1.0" />
<text x="536.20" y="409.00" font-size="6.5" text-anchor="middle" fill="#222" stroke="#222" stroke-width="0.06" >60</text>
<text x="428.50" y="417.60" font-size="7.95" text-anchor="middle" fill="#000" stroke="#000" stroke-width="0" >Time elapsed since the PAM50 sampling (months)</text>
<text x="0" y="0" font-size="8" text-anchor="middle" transform="translate(286.80,329.20) rotate(-90)">Progression-free survival (%)</text>
<path d="M376.00,280.00H527.00M376.00,263.35V280.65" fill="none" stroke="#FC7C74" stroke-width="1.3" stroke-linecap="butt"/>
<path d="M349.00,264.00H518.00M518.00,263.35V394.65" fill="none" stroke="#06BE40" stroke-width="1.3" stroke-linecap="butt"/>
<path d="M320.00,264.00H349.00M349.00,270.00H364.00M364.00,277.00H373.00M373.00,283.00H388.00M388.00,290.00H440.00M440.00,299.00H456.00M456.00,309.00H458.00M458.00,321.00H465.00M465.00,333.00H538.00M349.00,263.35V270.65M364.00,269.35V277.65M373.00,276.35V283.65M388.00,282.35V290.65M440.00,289.35V299.65M456.00,298.35V309.65M458.00,308.35V321.65M465.00,320.35V333.65" fill="none" stroke="#3F8EFF" stroke-width="1.3" stroke-linecap="butt"/>
<path d="M386.50,276.40V283.60M398.50,276.40V283.60M450.50,276.40V283.60M454.50,276.40V283.60M470.50,276.40V283.60M475.50,276.40V283.60M527.50,276.40V283.60" fill="none" stroke="#FC7C74" stroke-width="0.75"/>
<path d="M421.50,260.40V267.60M428.50,260.40V267.60M431.50,260.40V267.60M464.50,260.40V267.60M466.50,260.40V267.60M472.50,260.40V267.60M473.50,260.40V267.60M481.50,260.40V267.60M486.50,260.40V267.60M491.50,260.40V267.60" fill="none" stroke="#06BE40" stroke-width="0.75"/>
<path d="M392.50,286.40V293.60M429.50,286.40V293.60M431.50,286.40V293.60M434.50,286.40V293.60M452.50,295.40V302.60M453.50,295.40V302.60M457.50,308.40V315.60M472.50,329.40V336.60M485.50,329.40V336.60M500.50,329.40V336.60M538.50,329.40V336.60" fill="none" stroke="#3F8EFF" stroke-width="0.75"/>
<path d="M320.10,328.95 L518.00,328.95" fill="none" stroke="#444" stroke-width="1.1" stroke-dasharray="2.2,2.3"/>
<path d="M465.40,328.95 L465.40,394.00" fill="none" stroke="#444" stroke-width="1.1" stroke-dasharray="2.2,2.3"/>
<path d="M518.00,328.95 L518.00,394.00" fill="none" stroke="#444" stroke-width="1.1" stroke-dasharray="2.2,2.3"/>
<text x="314.90" y="345.90" font-size="5.75" text-anchor="start" fill="#000" stroke="#000" stroke-width="0" >ROR risk score categories, based on PAM50 testing:</text>
<line x1="315.90" y1="353.90" x2="323.90" y2="353.90" stroke="#FC7C74" stroke-width="1.4" />
<text x="327.60" y="356.05" font-size="5.95" text-anchor="start" fill="#000" stroke="#000" stroke-width="0" >Low (<tspan font-style="italic">n</tspan> = 8)</text>
<line x1="315.90" y1="363.75" x2="323.90" y2="363.75" stroke="#06BE40" stroke-width="1.4" />
<text x="327.60" y="365.90" font-size="5.95" text-anchor="start" fill="#000" stroke="#000" stroke-width="0" >Moderate (<tspan font-style="italic">n</tspan> = 13)</text>
<line x1="315.90" y1="373.60" x2="323.90" y2="373.60" stroke="#3F8EFF" stroke-width="1.4" />
<text x="327.60" y="375.75" font-size="5.95" text-anchor="start" fill="#000" stroke="#000" stroke-width="0" >High (<tspan font-style="italic">n</tspan> = 20)</text>
<text x="296.30" y="432.30" font-size="7.95" text-anchor="start" fill="#000" stroke="#000" stroke-width="0" >Patients at risk:</text>
<line x1="309.40" y1="437.60" x2="309.40" y2="460.80" stroke="#5a5a5a" stroke-width="1.0" />
<line x1="309.40" y1="460.80" x2="546.90" y2="460.80" stroke="#5a5a5a" stroke-width="1.0" />
<line x1="320.35" y1="460.80" x2="320.35" y2="462.90" stroke="#5a5a5a" stroke-width="1.0" />
<text x="320.35" y="469.30" font-size="6.5" text-anchor="middle" fill="#222" stroke="#222" stroke-width="0.06" >0</text>
<line x1="363.52" y1="460.80" x2="363.52" y2="462.90" stroke="#5a5a5a" stroke-width="1.0" />
<text x="363.52" y="469.30" font-size="6.5" text-anchor="middle" fill="#222" stroke="#222" stroke-width="0.06" >12</text>
<line x1="406.69" y1="460.80" x2="406.69" y2="462.90" stroke="#5a5a5a" stroke-width="1.0" />
<text x="406.69" y="469.30" font-size="6.5" text-anchor="middle" fill="#222" stroke="#222" stroke-width="0.06" >24</text>
<line x1="449.86" y1="460.80" x2="449.86" y2="462.90" stroke="#5a5a5a" stroke-width="1.0" />
<text x="449.86" y="469.30" font-size="6.5" text-anchor="middle" fill="#222" stroke="#222" stroke-width="0.06" >36</text>
<line x1="493.03" y1="460.80" x2="493.03" y2="462.90" stroke="#5a5a5a" stroke-width="1.0" />
<text x="493.03" y="469.30" font-size="6.5" text-anchor="middle" fill="#222" stroke="#222" stroke-width="0.06" >48</text>
<line x1="536.20" y1="460.80" x2="536.20" y2="462.90" stroke="#5a5a5a" stroke-width="1.0" />
<text x="536.20" y="469.30" font-size="6.5" text-anchor="middle" fill="#222" stroke="#222" stroke-width="0.06" >60</text>
<rect x="297.90" y="440.55" width="7.9" height="2.8" fill="#FA605A"/>
<text x="320.35" y="444.30" font-size="6.4" text-anchor="middle" fill="#FC7C74" stroke="#FC7C74" stroke-width="0.06" >8</text>
<text x="363.52" y="444.30" font-size="6.4" text-anchor="middle" fill="#FC7C74" stroke="#FC7C74" stroke-width="0.06" >8</text>
<text x="406.69" y="444.30" font-size="6.4" text-anchor="middle" fill="#FC7C74" stroke="#FC7C74" stroke-width="0.06" >5</text>
<text x="449.86" y="444.30" font-size="6.4" text-anchor="middle" fill="#FC7C74" stroke="#FC7C74" stroke-width="0.06" >5</text>
<text x="493.03" y="444.30" font-size="6.4" text-anchor="middle" fill="#FC7C74" stroke="#FC7C74" stroke-width="0.06" >1</text>
<text x="536.20" y="444.30" font-size="6.4" text-anchor="middle" fill="#FC7C74" stroke="#FC7C74" stroke-width="0.06" >0</text>
<rect x="297.90" y="447.80" width="7.9" height="2.8" fill="#06BE40"/>
<text x="320.35" y="451.55" font-size="6.4" text-anchor="middle" fill="#06BE40" stroke="#06BE40" stroke-width="0.06" >13</text>
<text x="363.52" y="451.55" font-size="6.4" text-anchor="middle" fill="#06BE40" stroke="#06BE40" stroke-width="0.06" >13</text>
<text x="406.69" y="451.55" font-size="6.4" text-anchor="middle" fill="#06BE40" stroke="#06BE40" stroke-width="0.06" >13</text>
<text x="449.86" y="451.55" font-size="6.4" text-anchor="middle" fill="#06BE40" stroke="#06BE40" stroke-width="0.06" >10</text>
<text x="493.03" y="451.55" font-size="6.4" text-anchor="middle" fill="#06BE40" stroke="#06BE40" stroke-width="0.06" >1</text>
<text x="536.20" y="451.55" font-size="6.4" text-anchor="middle" fill="#06BE40" stroke="#06BE40" stroke-width="0.06" >0</text>
<rect x="297.90" y="455.05" width="7.9" height="2.8" fill="#3F8EFF"/>
<text x="320.35" y="458.80" font-size="6.4" text-anchor="middle" fill="#3F8EFF" stroke="#3F8EFF" stroke-width="0.06" >20</text>
<text x="363.52" y="458.80" font-size="6.4" text-anchor="middle" fill="#3F8EFF" stroke="#3F8EFF" stroke-width="0.06" >19</text>
<text x="406.69" y="458.80" font-size="6.4" text-anchor="middle" fill="#3F8EFF" stroke="#3F8EFF" stroke-width="0.06" >15</text>
<text x="449.86" y="458.80" font-size="6.4" text-anchor="middle" fill="#3F8EFF" stroke="#3F8EFF" stroke-width="0.06" >11</text>
<text x="493.03" y="458.80" font-size="6.4" text-anchor="middle" fill="#3F8EFF" stroke="#3F8EFF" stroke-width="0.06" >2</text>
<text x="536.20" y="458.80" font-size="6.4" text-anchor="middle" fill="#3F8EFF" stroke="#3F8EFF" stroke-width="0.06" >1</text>
</svg>
</body></html>
